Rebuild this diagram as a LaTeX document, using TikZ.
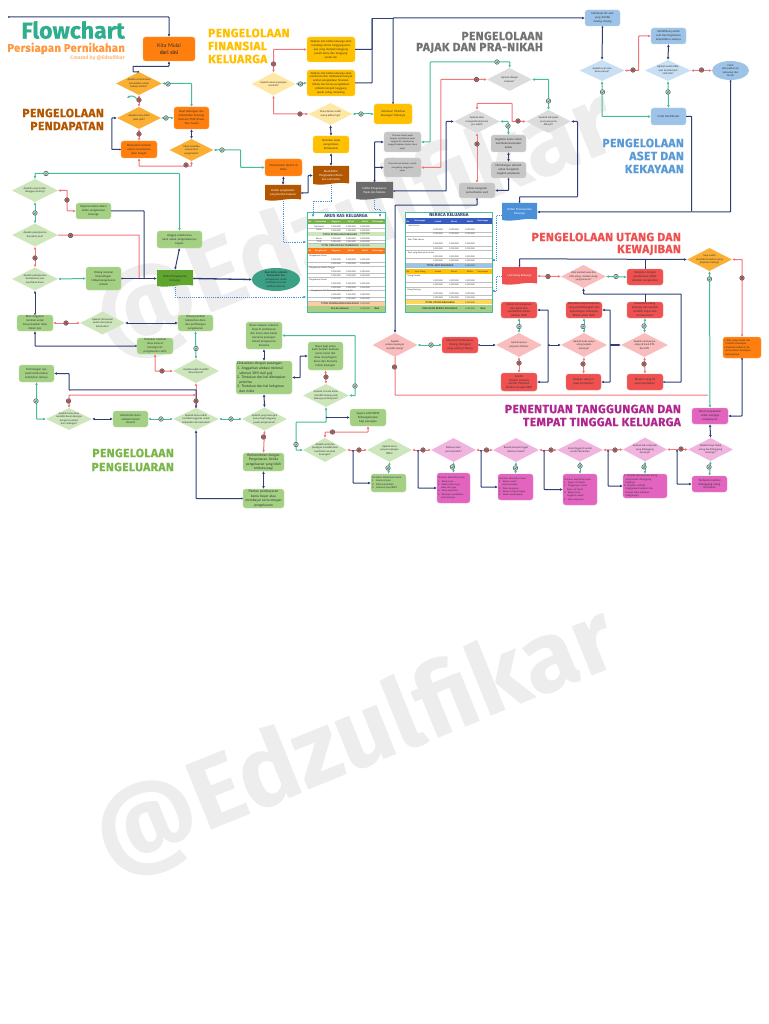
\documentclass[tikz,border=0pt]{standalone}
\usepackage{fontspec}
\setmainfont{Lato}
\newfontfamily\headf{Fira Sans}
\newfontfamily\headg{Fira Sans}[LetterSpace=3,FakeBold=0.4]
\newfontfamily\headt{Fira Sans}[FakeBold=0.5]
\usetikzlibrary{arrows.meta,shapes.geometric}
\definecolor{cNavy}{HTML}{2F3F75}
\definecolor{cRed}{HTML}{F2777A}
\definecolor{cTeal}{HTML}{45BC9C}
\definecolor{cDot}{HTML}{4A90D9}
\definecolor{bOrange}{HTML}{FF7F0E}
\definecolor{dOrange}{HTML}{FBB034}
\definecolor{bYellow}{HTML}{FFC000}
\definecolor{dYellow}{HTML}{FFE8A6}
\definecolor{bGreen}{HTML}{A3D083}
\definecolor{dGreen}{HTML}{CDE6BC}
\definecolor{bBlue}{HTML}{9DC3E8}
\definecolor{dBlue}{HTML}{C9DFF3}
\definecolor{bGray}{HTML}{C6C6C6}
\definecolor{dGray}{HTML}{DCDCDC}
\definecolor{bRed}{HTML}{EE5150}
\definecolor{dRed}{HTML}{F9BDBD}
\definecolor{bPink}{HTML}{E264BE}
\definecolor{dPink}{HTML}{F0B4DF}
\definecolor{brownD}{HTML}{B35600}
\definecolor{tTxt}{HTML}{333333}
\definecolor{hPurple}{HTML}{B0288F}
\definecolor{hGreen}{HTML}{7AB648}
\definecolor{hBlue}{HTML}{5B9BD5}
\definecolor{hTeal}{HTML}{2FAE8E}
\definecolor{darkG}{HTML}{5FA52E}
\tikzset{
 boxbase/.style={rectangle,rounded corners=2.6pt,inner sep=0pt,align=center,text=tTxt,font=\fontsize{2.8}{3.9}\selectfont},
 forange/.style={fill=bOrange,draw=bOrange!70!white,line width=.4pt},
 fyellow/.style={fill=bYellow,draw=bYellow!70!white,line width=.4pt},
 fgreen/.style={fill=bGreen,draw=bGreen!70!white,line width=.4pt},
 fblue/.style={fill=bBlue,draw=bBlue!70!white,line width=.4pt},
 fgray/.style={fill=bGray,draw=bGray!70!white,line width=.4pt},
 fred/.style={fill=bRed,draw=bRed!70!white,line width=.4pt},
 fpink/.style={fill=bPink,draw=bPink!70!white,line width=.4pt},
 listtxt/.style={align=left,font=\fontsize{2.6}{3.5}\selectfont},
 dtxt/.style={inner sep=0pt,align=center,text=tTxt,font=\fontsize{2.5}{3.5}\selectfont},
 conn/.style={line width=1pt,rounded corners=.6pt},
 cnavy/.style={conn,cNavy,{Circle[length=1.8pt]}-{Latex[length=2.6pt,width=2.6pt]}},
 cnavyb/.style={conn,cNavy,{Latex[length=2.6pt,width=2.6pt]}-{Latex[length=2.6pt,width=2.6pt]}},
 cnavyp/.style={conn,cNavy},
 cred/.style={conn,cRed,{Latex[length=2.6pt,width=2.6pt]}-{Latex[length=2.6pt,width=2.6pt]}},
 credp/.style={conn,cRed},
 cteal/.style={conn,cTeal,{Latex[length=2.6pt,width=2.6pt]}-{Latex[length=2.6pt,width=2.6pt]}},
 cdot/.style={line width=.9pt,cDot,densely dotted,-{Latex[length=2.6pt,width=2.6pt]}},
 heading/.style={inner sep=0pt,anchor=east,font=\headg\bfseries\fontsize{12}{14}\selectfont},
 wmark/.style={inner sep=0pt,text=black!7,font=\headf\bfseries\fontsize{100}{100}\selectfont,rotate=22},
 tcell/.style={inner sep=0pt,text=tTxt,font=\fontsize{2.1}{2.5}\selectfont},
 thead/.style={inner sep=0pt,text=white,font=\bfseries\fontsize{2.1}{2.5}\selectfont},
 tband/.style={inner sep=0pt,text=tTxt,font=\bfseries\fontsize{2.4}{2.8}\selectfont},
 ttitle/.style={inner sep=0pt,text=cNavy,font=\headf\bfseries\fontsize{4.6}{5}\selectfont},
 yesm/.style={circle,minimum size=4.6pt,inner sep=0pt,draw=black!65,line width=.5pt,fill=cTeal!45!white},
 nom/.style={circle,minimum size=4.6pt,inner sep=0pt,draw=black!65,line width=.5pt,fill=cRed!85!black},
}
\newcount\nodecnt
\newcommand\Bx[7]{%
 \pgfmathsetmacro\bxc{(#2+#4)/2}\pgfmathsetmacro\byc{(#3+#5)/2}%
 \pgfmathsetmacro\bxw{#4-#2}\pgfmathsetmacro\bxh{#5-#3}\pgfmathsetmacro\bxt{#4-#2-2}%
 \node[boxbase,#6,minimum width=\bxw pt,minimum height=\bxh pt,text width=\bxt pt] (#1) at (\bxc,\byc) {#7};}
\newcommand\DgT[7]{%
 \node[diamond,aspect=2,inner sep=0pt,fill=#6,minimum width=#4pt,minimum height=#5pt,label={[dtxt]center:{#7}}] (#1) at (#2,#3) {};}
\newcommand\Dc[8]{% name x1 y1 x2 y2 fill textcolour text
 \pgfmathsetmacro\bxc{(#2+#4)/2}\pgfmathsetmacro\byc{(#3+#5)/2}%
 \pgfmathsetmacro\bxw{#4-#2}\pgfmathsetmacro\bxh{#5-#3}%
 \pgfmathsetmacro\wa{#4-.35*\bxw}\pgfmathsetmacro\wb{#2+.35*\bxw}%
 \pgfmathsetmacro\ya{#5-1.5}\pgfmathsetmacro\yb{#5-4}\pgfmathsetmacro\yc{#5+1.5}\pgfmathsetmacro\yd{#5-1}%
 \fill[#6] (#2,#3) -- (#4,#3) -- (#4,\ya) .. controls (\wa,\yb) and (\wb,\yc) .. (#2,\yd) -- cycle;
 \node[inner sep=0pt,align=center,text=#7,minimum width=\bxw pt,minimum height=\bxh pt,font=\fontsize{2.8}{3.9}\selectfont] (#1) at (\bxc,\byc) {#8};}
\newcommand\Yk[2]{\global\advance\nodecnt by 1 \node[yesm,path picture={\draw[black!70,line width=.3pt] (path picture bounding box.center) ++(-1,0) -- ++(.8,.9) -- ++(1.2,-1.8);}] (k\the\nodecnt) at (#1,#2) {};}
\newcommand\Nk[2]{\global\advance\nodecnt by 1 \node[nom,path picture={\draw[black!70,line width=.3pt] (path picture bounding box.center) ++(-1,-1) -- ++(2,2) ++(-2,0) -- ++(2,-2);}] (k\the\nodecnt) at (#1,#2) {};}
\newcommand\Tx[4]{\global\advance\nodecnt by 1 \node[#1] (k\the\nodecnt) at (#2,#3) {#4};}
\newcommand\Bn[5]{\fill[#5] (#1,#2) rectangle (#3,#4);}
\newcommand\ARow[1]{\Tx{tcell}{336}{#1}{1.000.000}\Tx{tcell}{351}{#1}{1.000.000}\Tx{tcell}{365}{#1}{1.000.000}\pgfmathsetmacro\ry{#1+1.8}\draw[black!25,line width=.2pt] (308,\ry) -- (385,\ry);}
\newcommand\BRow[1]{\Tx{tcell}{438}{#1}{1.000.000}\Tx{tcell}{454}{#1}{1.000.000}\Tx{tcell}{470}{#1}{1.000.000}\pgfmathsetmacro\ry{#1+1.8}\draw[black!25,line width=.2pt] (406,\ry) -- (492,\ry);}
\begin{document}
\begin{tikzpicture}[x=1pt,y=-1pt]
\useasboundingbox (0,0) rectangle (768,1024);
\fill[white] (0,0) rectangle (768,1024);
% watermarks
\node[wmark] (w1) at (357,225) {@Edzulfikar};
\node[wmark] (w2) at (357,742) {@Edzulfikar};
% title
\node[inner sep=0pt,anchor=east,text=hTeal,font=\headt\bfseries\fontsize{23}{25}\selectfont] (title) at (125,30) {Flowchart};
\node[inner sep=0pt,anchor=east,text=bOrange!80!white,font=\headg\bfseries\fontsize{11.2}{13}\selectfont] (subt) at (125,48.5) {Persiapan Pernikahan};
\node[inner sep=0pt,anchor=east,text=bOrange!55!white,font=\headf\bfseries\fontsize{5.1}{6}\selectfont] (cred) at (125,58) {Created by @Edzulfikar};
% headings
\node[heading,text=brownD,align=right] (h1a) at (104,113) {PENGELOLAAN};
\node[heading,text=brownD] (h1b) at (104,126) {PENDAPATAN};
\node[heading,text=bYellow,anchor=west] (h2a) at (208,33) {PENGELOLAAN};
\node[heading,text=bYellow,anchor=west] (h2b) at (208,46) {FINANSIAL};
\node[heading,text=bYellow,anchor=west] (h2c) at (208,59) {KELUARGA};
\node[heading,text=black!55] (h3a) at (543,36) {PENGELOLAAN};
\node[heading,text=black!55] (h3b) at (543,48) {PAJAK DAN PRA-NIKAH};
\node[heading,text=hBlue] (h4a) at (684,143) {PENGELOLAAN};
\node[heading,text=hBlue] (h4b) at (684,156) {ASET DAN};
\node[heading,text=hBlue] (h4c) at (684,169) {KEKAYAAN};
\node[heading,text=bRed] (h5a) at (681,237) {PENGELOLAAN UTANG DAN};
\node[heading,text=bRed] (h5b) at (681,250) {KEWAJIBAN};
\node[heading,text=hPurple] (h6a) at (681,409) {PENENTUAN TANGGUNGAN DAN};
\node[heading,text=hPurple] (h6b) at (681,422) {TEMPAT TINGGAL KELUARGA};
\node[heading,text=hGreen] (h7a) at (174,453) {PENGELOLAAN};
\node[heading,text=hGreen] (h7b) at (174,467) {PENGELUARAN};
% ---- income
\Bx{start}{143}{37}{195}{61}{forange,font=\fontsize{5.2}{7.4}\selectfont}{Kita Mulai\\\textbf{dari sini}}
\DgT{d1}{139}{83.5}{46}{23}{dOrange}{Apakah anda berikan\\kemudahan untuk\\bekerja sekitar?}
\DgT{d2}{139}{118}{44}{22}{dOrange}{Apakah kamu lebih\\pilah-pilih?}
\Bx{b1}{174}{107}{209}{129}{forange}{Buat dukungan dan\\prioritaskan keluarga\\berbasis TMS (Know\\Your Goals)}
\DgT{d3}{191.5}{150}{44}{22}{dOrange}{Masa memiliku\\semua dana\\penghasilan?}
\Bx{b2}{121}{141}{157}{158}{forange}{Diskusikan kembali\\untuk menentukan\\jalan tengah}
\Bx{inc}{265}{159}{302}{176}{forange}{Mendanakan dikirim di\\Kalau}
\Dc{inb}{265}{185}{301}{201}{brownD}{white}{Daftar penghasilan\\yang bersifat bulanan}
\Dc{inc2}{313}{166}{349}{185}{brownD}{white}{Buat daftar\\Penghasilan Mantu\\dan cuti mantu}
% ---- finance
\Bx{f1}{307}{37}{355}{62}{fyellow}{Siapkan dan kelola keluarga akan\\membagi antara tanggunganmu\\apa yang menjadi tanggung\\jawab kamu dan tanggung\\jawab lain}
\Bx{f2}{307}{70}{355}{96}{fyellow}{Siapkan dan kelola keluarga akan\\membantu dan meliburkan banyak\\arahan pengelolaan finansial.\\Kelola dan bicara pengelolaan\\pribadi menjadi tanggung\\jawab saling menjaling}
\DgT{fd1}{273.5}{84}{44}{23}{dYellow}{Apakah rekan/pasangan\\menikah?}
\DgT{fd2}{330.5}{114}{44}{22}{dYellow}{Masa diskusi sudah\\cukup pilihan lagi?}
\Bx{f3}{374}{104}{412}{124}{fyellow}{`Sekutuan `Manfaat\\Keuangan' Keluarga}
\Bx{fb}{313}{136}{349}{153}{fyellow}{Tentukan skala\\pengelolaan\\Pendapatan}
% ---- tax
\DgT{s1}{509.5}{79.5}{45}{23}{dGray}{Apakah dikagai\\bulanan?}
\Bx{s2}{384}{132}{421}{152}{fgray,font=\fontsize{2.2}{3.2}\selectfont}{Tentukan dapat pajak\\dengan manfaatnya pajak\\tanggal (P), sebelumnya\\tanggal kelipatan kantor dana\\pajak}
\Bx{s2b}{384}{158}{421}{177}{fgray,font=\fontsize{2.2}{3.2}\selectfont}{Dana lainnya bulanan, untuk\\mengolong tanggalnya\\pajak}
\Dc{s4}{356}{182}{393}{200}{black!58}{white}{Daftar Pengeluaran\\Pajak dan Sekolaa}
\DgT{s5}{477}{121.5}{46}{23}{dGray}{Apakah akan\\mengambil pinjaman\\pra-nikah?}
\DgT{s3}{548.5}{121.5}{45}{23}{dGray}{Apakah ada pajak\\aset yang perlu\\dibayar?}
\Bx{s6}{491}{135}{526}{152}{fgray}{Kegiatan kamu untuk\\membuka/kumpulan\\kelola}
\Bx{s7}{491}{162}{526}{178}{fgray}{Membangun sebelah\\untuk mengelola\\langkah perjalanan}
\Bx{s9}{459}{183}{495}{198}{fgray}{Mulai mengarah\\pemanfaatan aset}
% ---- assets
\Bx{a1}{585}{10}{620}{26}{fblue}{Membuat list aset\\yang dimiliki\\masing-masing}
\DgT{a2}{602}{70.5}{45}{21}{dBlue}{Apakah aset atau\\kamu punya?}
\Bx{a3}{651}{28}{686}{44}{fblue}{Identifikasi jumlah\\aset dan bagaimana\\kepemilikan asetnya}
\DgT{a4}{668}{70.5}{46}{21}{dBlue}{Apakah sudah tidak\\aset tersebut jadi\\milik kita?}
\node[ellipse,fill=bBlue,inner sep=0pt,minimum width=37pt,minimum height=19pt,align=center,text=tTxt,font=\fontsize{2.6}{3.5}\selectfont] (a5) at (730.5,70.5) {Catat\\dimasukkan ke\\kekayaan dan\\bersih};
\Bx{a6}{651}{108}{686}{125}{fblue}{Catat Kontributor}
\Dc{a7}{502}{203}{537}{221}{cDot}{white}{Daftar Finansial dan\\Keluarga}
% ---- debt
\DgT{u1}{709.5}{259.5}{45}{23}{dOrange}{Saya sudah\\memiliki/terbebas utang\\pinjaman hutang?}
\Bx{u2}{723}{337}{761}{358}{forange,listtxt}{\textbullet{} Tulis yang masih ada\\ \ \ Catatan keuangan\\\textbullet{} Evaluasi sebelum ke\\ \ \ penyusutan keuangan\\ \ \ keluarganya}
\Dc{u3}{502}{267}{537}{285}{bRed}{white}{List Utang Keluarga}
\DgT{u5}{583.5}{276.5}{45}{23}{dRed}{Lihat kembali rasio dan\\sifat utang. Adakah utang\\yang beracun?}
\Bx{u4}{627}{269}{663}{285}{fred}{Mengatur dengan\\pemberesan (debt)\\sebelum pengelolaan}
\Bx{u6}{501}{302}{537}{318}{fred}{Kelola cicil pinjaman\\dan pajak dan\\manfaatkan bonus\\sebulan lebih}
\Bx{u7}{566}{302}{602}{318}{fred}{Bicarakan kepemimpinan\\yang pertimbangkan dan\\kepentingan kelompok\\Beliau posisi lebih}
\Bx{u8}{627}{302}{663}{318}{fred}{Kesehatan utang\\keluarga dan sekolah\\terlebih lanjut dan\\bersiap bulan}
\DgT{u9}{519}{345}{46}{24}{dRed}{Apakah punya\\pinjaman lifetime}
\DgT{u10}{584}{345}{46}{24}{dRed}{Apakah anda punya\\utang kepada\\keluarga?}
\DgT{u11}{644.5}{345}{47}{24}{dRed}{Apakah anda punya\\utang di bank KTA\\dan KPR}
\Bx{u12}{501}{373}{537}{391}{fred}{Kendit\\dengan pemuda\\pernah Pinjaman\\lifetime di awal Aktif}
\Bx{u13}{566}{374}{601}{390}{fred}{Bisakan uang ini\\awal pernikahan}
\Bx{u14}{627}{374}{663}{390}{fred}{Bisakan uang ini\\awal pernikahan}
\DgT{r1}{395}{345}{45}{24}{dRed}{Apakah\\pelaku/pasangan\\memiliki utang?}
\Bx{r2}{442}{337}{478}{353}{fred}{Memilah Pembayaran\\Hutang (Kategori)\\yang sedang Hutang}
% ---- spending left
\DgT{g1}{35}{190.5}{46}{23}{dGreen}{Apakah uang lembur\\dianggap penting?}
\DgT{g2}{35}{235}{46}{23}{dGreen}{Apakah pekerjaanmu\\berkaitan jasa?}
\DgT{g3}{35}{279}{46}{23}{dGreen}{Apakah pekerjaanmu\\berdasarkan jasa\\kesehatan dasar}
\Bx{g4}{76}{203}{111}{219}{fgreen}{Kejarkan/Akan dalam\\daftar pengeluaran\\keluarga}
\Bx{g5}{86}{267}{121}{290}{fgreen}{Hitung nominal\\Kepentingan\\Hidup/pengeluaran\\pribadi}
\Dc{g6}{157}{270}{193}{287}{darkG}{tTxt}{Daftar Pengeluaran\\Keluarga}
\Bx{g7}{157}{231}{202}{248}{fgreen}{Anggap sebelumnya\\kami untuk pengelolaannya\\bagian}
\node[ellipse,fill=cTeal!85!black,inner sep=0pt,minimum width=48pt,minimum height=23pt,align=center,text=tTxt,font=\fontsize{2.6}{3.5}\selectfont] (ell) at (276,279.5) {\textbf{Buat daftar sebelah}\\\textbf{Pemasukan dan}\\pengeluaran untuk\\membuat arus kas\\aktifitas bulanan};
\Bx{g8}{17}{315}{53}{331}{fgreen}{Buat Anggaran\\nominal untuk\\menyesuaikan dana\\dalam pos}
\DgT{g9}{102.5}{323}{45}{23}{dGreen}{Apakah (Simpanan)\\sudah mencukupi\\kebutuhan?}
\Bx{g10}{178}{315}{213}{331}{fgreen}{Hitung kembali\\kebutuhan dana\\dan perhitungan\\pengeluaran}
\Bx{g11}{137}{338}{173}{354}{fgreen}{Tentukan nominal\\dana darurat\\keluarga (3x\\pengeluaran rutin)}
\DgT{g12}{196}{371}{46}{24}{dGreen}{Apakah sudah memiliki\\dana darurat?}
\DgT{g13}{196}{419}{46}{22}{dGreen}{Apakah kamu sudah\\memiliki anggaran untuk\\kebutuhan dan investasi?}
\Bx{g14}{19}{365}{54}{382}{fgreen}{Perhitungan apa\\pasti/cicilan bebas\\kebutuhan lainnya}
\DgT{g15}{69}{419}{46}{22}{dGreen}{Apakah kamu akan\\memiliki dana tabungan\\dengan investasi\\dan cadangan?}
\Bx{g16}{113}{411}{148}{427}{fgreen}{Kebutuhan dana\\sekolah/rumah\\darurat}
% ---- spending mid
\DgT{h1}{264.5}{419}{45}{23}{dGreen}{Apakah yang kamu jual\\punya bagi tanggung\\jawab pengeluaran?}
\Bx{h0}{246}{322}{282}{349}{fgreen}{Bawa rekapan sebelum\\kerja di pertahanan\\dan kamu akan bahas\\bersama pasangan\\terkait pengeluaran\\bersama}
\Bx{h2}{236}{361}{292}{394}{fgreen,listtxt,font=\fontsize{3.5}{4.6}\selectfont}{Diskusikan dengan pasangan:\\1. Anggarkan alokasi minimal\\ \ \ sebesar 10\% dari gaji\\2. Tentukan dan hal ditetapkan\\ \ \ prioritas\\3. Tentukan dan hal keinginan\\ \ \ dan risiko}
\Bx{h3}{243}{453}{284}{471}{fgreen,font=\fontsize{3.4}{4.4}\selectfont}{Berkomitmen dengan\\Pengeluaran, Kelola\\pengeluaran yang lebih\\terbuka pagi}
\Bx{h4}{243}{489}{284}{508}{fgreen,font=\fontsize{3.4}{4.4}\selectfont}{Pantau pembayaran\\kamu bayar atau\\membayar serta dengan\\pengeluaran}
\Bx{h5}{308}{342}{343}{370}{fgreen}{Bawa bagi kamu\\kami berikan bantuan\\peran mana dan\\dana di perbagian\\kamu dan bersama\\kelola pasangan}
\DgT{h6}{326}{395.5}{46}{23}{dGreen}{Apakah rencana kamu\\memiliki hutang pada\\keluarga pembayaran?}
\Bx{h8}{350}{409}{386}{426}{fgreen}{Segera ambil BPJS\\Ketenagakerjaan\\bagi pasangan}
\DgT{h7}{325}{450}{44}{24}{dGreen}{Apakah anda dan\\pasangan memiliki dana\\kesehatan asuransi\\keuangan?}
\DgT{h9}{389.5}{450}{45}{24}{dGreen}{Apakah kamu\\punya tunjangan\\BPJS?}
\Bx{h10}{371}{474}{406}{492}{fgreen,listtxt,font=\fontsize{2.5}{3.4}\selectfont}{Tentukan kebutuhan kamu:\\ 1. \ Asuransi jiwa\\ 2. \ Dana kesehatan\\ 3. \ Asuransi jiwa BPJS}
% ---- pink
\DgT{p1}{453.5}{450}{45}{24}{dPink}{Bahasa rekan\\per kerja tiket?}
\Bx{p2}{437}{473}{470}{503}{fpink,listtxt,font=\fontsize{2.3}{3.3}\selectfont}{Tentukan kebutuhan kamu\\ 1. \ Rekan kerja\\ 2. \ Alokasi dana bagi\\ \ \ \ \ rekan dan juga\\ 3. \ Dana kesehatan\\ 4. \ Persiapan pendidikan\\ \ \ \ \ anak keluarga}
\DgT{p3}{516}{450}{46}{24}{dPink}{Rumah tempat tinggal\\akhirnya hasad?}
\Bx{p4}{498}{474}{533}{500}{fpink,listtxt,font=\fontsize{2.3}{3.3}\selectfont}{Tentukan kebutuhan kamu\\ 1. \ Alasan rumah\\ \ \ \ \ untuk Kesiapan\\ 2. \ Dana bangunan\\ 3. \ Desain tempat tinggal\\ 4. \ Teman pendamping}
\DgT{p5}{580}{450}{46}{23}{dPink}{Anda tinggal di rumah\\sendiri/kontrakan}
\Bx{p6}{563}{474}{597}{505}{fpink,listtxt,font=\fontsize{2.3}{3.3}\selectfont}{Tentukan kebutuhan kamu\\ 1. \ Segera di tempat\\ 2. \ Tanggungan rumah\\ \ \ \ \ bulan, air, listrik\\ 3. \ Belajar kami\\ \ \ \ \ tinggal di rumah\\ 4. \ Dana keperluan}
\DgT{p7}{645}{449.5}{44}{24}{dPink}{Apakah ada orang lain\\yang ditanggung\\keluarga?}
\Bx{p8}{623}{474}{667}{498}{fpink,listtxt,font=\fontsize{2.5}{3.3}\selectfont}{1. Perjelas dan jaminan orang\\ \ \ yang lemah ditanggung\\ \ \ keluarga\\2. Perjelas nominal\\ \ \ tanggungan bulanan dan\\ \ \ berapa lama sebelum\\ \ \ tanggungan}
\DgT{p9}{710.5}{449.5}{45}{23}{dPink}{Apakah biaya hidup\\orang tua ditanggung\\keluarga?}
\Bx{p10}{692}{476}{727}{492}{fpink}{Tentukan nominal\\ditanggung orang\\tua bulan}
\Bx{p11}{692}{408}{728}{424}{fpink}{Buat kesepakatan\\untuk menjaga\\pengeluaran}
% ---- table 1
\Bx{t1}{307}{212}{385}{312}{fill=white,draw=cTeal,line width=.9pt,rounded corners=0pt}{}
\Tx{ttitle}{346}{215.5}{ARUS KAS KELUARGA}
\Bn{308}{218.7}{384.5}{224.3}{darkG!85!white}
\Tx{thead}{310}{221.5}{No}\Tx{thead}{321}{221.5}{Pemasukan}\Tx{thead}{336}{221.5}{Anggaran}\Tx{thead}{351}{221.5}{Aktual}\Tx{thead}{365}{221.5}{Selisih}\Tx{thead}{378}{221.5}{Keterangan}
\Tx{tcell}{319}{226.7}{Gaji Pokok}\ARow{226.7}\Tx{tcell}{319}{230.3}{Lapak}\ARow{230.3}
\Bn{308}{232.3}{384.5}{236}{dGreen}\Tx{tband}{340}{234.2}{TOTAL PEMASUKAN REGULER}\Tx{tcell}{365}{234.2}{1.000.000}
\Tx{tcell}{319}{238.5}{Bonus}\ARow{238.5}\Tx{tcell}{319}{241.7}{THR}\ARow{241.7}
\Bn{308}{244.3}{384.5}{247.7}{dGreen}\Tx{tband}{340}{246}{TOTAL PEMASUKAN TAMBAHAN}\Tx{tcell}{365}{246}{1.000.000}
\Bn{308}{247.7}{384.5}{254}{bOrange!80!bRed}
\Tx{thead}{310}{251}{No}\Tx{thead}{321}{251}{Pengeluaran}\Tx{thead}{336}{251}{Anggaran}\Tx{thead}{351}{251}{Aktual}\Tx{thead}{365}{251}{Selisih}\Tx{thead}{378}{251}{Keterangan}
\Tx{tcell}{318}{256}{Pengeluaran Tetap}\ARow{260}\ARow{264}
\Tx{tcell}{322}{267.7}{Pengeluaran Rumah Tangga}\ARow{271.7}\ARow{275.7}
\Tx{tcell}{318}{280}{Pengeluaran Sosial}\ARow{284}\ARow{288}
\Tx{tcell}{332}{291}{Pengeluaran Tak Terencana (dana yang perlu)}\ARow{295}\ARow{299}
\Bn{308}{301.7}{384.5}{306}{bOrange!40!white}\Tx{tband}{340}{303.8}{TOTAL PENGELUARAN BULANAN}\Tx{tcell}{365}{303.8}{1.000.000}
\Bn{308}{306}{384.5}{311.7}{bGreen}\Tx{tband}{340}{308.8}{Sisa Kas Bulanan}\Tx{tcell}{365}{308.8}{1.000.000}\Tx{tband}{377}{308.8}{Baik}
% ---- table 2
\Bx{t2}{405}{212}{492}{312}{fill=white,draw=cTeal,line width=.9pt,rounded corners=0pt}{}
\Tx{ttitle}{449}{215.3}{NERACA KELUARGA}
\Bn{406}{218.3}{491.5}{224.3}{hBlue!70!blue!85!black}
\Tx{thead}{408}{221.3}{No}\Tx{thead}{420}{221.3}{Keterangan}\Tx{thead}{438}{221.3}{Jumlah}\Tx{thead}{454}{221.3}{Aktual}\Tx{thead}{470}{221.3}{Selisih}\Tx{thead}{483}{221.3}{Keterangan}
\Tx{tcell}{414}{226}{Aset Lancar}\BRow{230}\BRow{234}
\Tx{tcell}{416}{239.3}{Aset Tidak Lancar}\BRow{244}\BRow{248.3}
\Tx{tcell}{421}{252.7}{Aset yang dipunyai Investasi}\BRow{256.7}\BRow{261}
\Bn{406}{263.7}{491.5}{268.3}{bBlue}\Tx{tband}{440}{266}{TOTAL ASET KELUARGA}\Tx{tcell}{470}{266}{1.000.000}
\Bn{406}{269}{491.5}{274.3}{bYellow}
\Tx{tcell}{408}{271.6}{No}\Tx{tcell}{420}{271.6}{Jenis Utang}\Tx{tcell}{438}{271.6}{Jumlah}\Tx{tcell}{454}{271.6}{Aktual}\Tx{tcell}{470}{271.6}{Selisih}\Tx{tcell}{483}{271.6}{Keterangan}
\Tx{tcell}{414}{276.3}{Utang Pendek}\BRow{280.7}\BRow{285}
\Tx{tcell}{414}{289.7}{Utang Panjang}\BRow{293.7}\BRow{297.7}
\Bn{406}{300.3}{491.5}{304.3}{bYellow!65!white}\Tx{tband}{440}{302.3}{TOTAL UTANG KELUARGA}\Tx{tcell}{470}{302.3}{1.000.000}
\Bn{406}{305}{491.5}{311.7}{bGreen}\Tx{tband}{440}{308.3}{KEKAYAAN BERSIH KELUARGA}\Tx{tcell}{470}{308.3}{1.000.000}\Tx{tband}{483}{308.3}{Baik}
% free ends
\coordinate (tl) at (8,17);
\coordinate (fj) at (372,18.5);
\coordinate (t1a) at (306,242);
\coordinate (t1b) at (313,217);
\coordinate (t1c) at (380,217);
\coordinate (t1d) at (306,297);
\coordinate (t2a) at (492,260);
\coordinate (t2b) at (492,291);
\coordinate (glue) at (144,279);
\coordinate (redend) at (708,395);
\coordinate (u2n) at (742,337);
\coordinate (u2s) at (742,358);
% --- connectors: income
\draw[cnavy] (tl) -| (start.north);
\draw[cnavy] (d1.north) -- ++(-6,0) -- ++(0,-5.5) -| (start.south);
\draw[cteal] (d1.east) -| (b1.north);
\draw[cred] (d2.north) -- (d1.south);
\draw[cteal] (d2.east) -- (b1.west);
\draw[cnavyb] (b1.south) -- (d3.north);
\draw[cteal] (d3.east) -- ++(27,0) |- (inc.west);
\draw[cred] (d3.south) -- ++(0,5) -| (b2.south);
\draw[cred] (b2.north) -- (d2.south);
\draw[cnavy] (b2.west) -- ++(-9,0) |- (d2.west);
\draw[cteal,{Circle[length=.1pt]}-{Latex[length=2.6pt,width=2.6pt]}] (137,99) .. controls (134,95) and (130,96) .. (127,98);
\draw[cnavyb] (inc.south) -- (inb.north);
\draw[cnavy] (inb.east) -- ++(7,0) |- (inc2.west);
\draw[cnavyb] (inc2.north) -- (fb.south);
\draw[cnavyb] (fb.north) -- (fd2.south);
% finance
\draw[cred] (fd1.north) |- (f1.west);
\draw[cteal] (fd1.east) -- (f2.west);
\draw[cred] (fd2.west) -| (fd1.south);
\draw[cteal] (fd2.east) -- (f3.west);
\draw[cnavyp] (f1.east) -| (fj);
\draw[cnavyp] (f2.east) -| (fj);
\draw[cnavy] (f3.north) |- (a1.west);
\draw[cnavyp,line width=1.2pt] (fj) -- (f3.north|-fj);
% tax
\draw[cteal] (s2.east) -- ++(9,0) |- (510,62) -- (s1.north);
\draw[cred] (s1.west) -- ++(-46,0) |- (s2b.east);
\draw[cteal] (s1.east) -- ++(16.5,0) -- (s3.north);
\draw[cnavy] (s4.north) |- (s2.west);
\draw[cnavy] (s4.north) |- (s2b.west);
\draw[cnavy] (s4.east) -- ++(53,0) |- (s5.west);
\draw[cred] (s5.north) -- ++(0,-6.5) -- ++(35,0) |- (s3.west);
\draw[cteal] (s5.east) -- ++(8,0) -- (s6.north);
\draw[cnavyb] (s6.south) -- (s7.north);
\draw[cnavy] (s7.south) |- (s9.east);
\draw[cred] (s9.north) -- (s5.south);
\draw[cnavy] (s9.south) -- ++(0,7) -| (r1.north);
% assets
\draw[cnavy] (a1.south) -- (a2.north);
\draw[cred] (a2.east) -- ++(14,0) |- (a3.west);
\draw[cnavyb] (a3.south) -- (a4.north);
\draw[cred] (a4.east) -- (a5.west);
\draw[cteal] (a2.south) |- (a6.west);
\draw[cteal] (a4.south) -- (a6.north);
\draw[cnavyp] (a6.east) -- ++(5.5,0) -- ++(0,95);
\draw[cnavy] (a5.south) |- (a7.east);
\draw[cnavy] (a7.north) -- ++(0,-6) -- ++(58,0) |- (s3.east);
% debt
\draw[cnavy] (u3.north) -- ++(0,-8) -- (u1.west);
\draw[cnavyp] (u4.north) -- (u4.north|-u1.west);
\draw[cred] (u3.east) -- (u5.west);
\draw[cteal] (u5.east) -- (u4.west);
\draw[cred] (u1.east) -- ++(10,0) -- (u2n);
\draw[cnavy] (u2s) |- (p11.east);
\draw[cteal] (u1.south) -- (p11.north);
\draw[cteal] (u9.north) -- (u6.south);
\draw[cteal] (u10.north) -- (u7.south);
\draw[cteal] (u11.north) -- (u8.south);
\draw[cred] (u9.south) -- (u12.north);
\draw[cred] (u10.south) -- (u13.north);
\draw[cred] (u11.south) -- (u14.north);
\draw[cnavyb] (u6.east) -- ++(11,0) |- (u12.east);
\draw[cnavyb] (u7.east) -- ++(8,0) |- (u13.east);
\draw[cnavy] (548,345) -- (u10.west);
\draw[cnavy,line width=1.3pt] (610,345) -- (u11.west);
\draw[cnavy] (u14.east) -- ++(18,0) |- (644,294) -| (u5.south);
\draw[cnavyp] (u8.north) -- ++(0,-8);
\draw[cteal] (r1.east) -- (r2.west);
\draw[cnavy] (r2.east) -- (u9.west);
\draw[credp] (r1.south) |- (redend);
% left
\draw[cteal] (g1.north) |- (46,173.5) -| (g7.north);
\draw[cteal] (g1.south) -- (g2.north);
\draw[cred] (g2.south) -- (g3.north);
\draw[cred] (g1.east) -- ++(9,0) |- (g4.west);
\draw[cnavyp] (g4.east) -- ++(33,0) -- (glue);
\draw[credp] (g2.east) -- ++(81,0) -- (139,279);
\draw[cteal] (g3.east) -- (g5.west);
\draw[cnavy] (g5.east) -- (g6.west);
\draw[cnavyb] (g7.south) -- (g6.north);
\draw[cnavy,line width=1.3pt] (g6.east) -- (ell.west);
\draw[cnavy] (g8.north) -- (g3.south);
\draw[cred] (g9.west) -- (g8.east);
\draw[cnavyb] (g9.east) -- (g10.west);
\draw[cteal] (g12.north) -- (g10.south);
\draw[cred] (g12.west) -| (g11.south);
\draw[cnavy] (g11.west) -| (g8.south);
\draw[cred] (g13.north) -- (g12.south);
\draw[cred] (g15.north) |- (196,395);
\draw[cnavy] (g13.north) -- ++(0,-18) -- (69,390) |- (g14.east);
\draw[cnavyb] (g16.west) -- (g15.east);
\draw[cteal] (g13.west) -- (g16.east);
\draw[cteal] (g15.west) -| (g14.south);
\draw[cteal] (g13.east) -- (h1.west);
\draw[cnavy] (h4.west) -| (g13.south);
% mid
\draw[cred] (h1.south) -- (h3.north);
\draw[cnavyb] (h3.south) -- (h4.north);
\draw[cnavyb] (h2.south) -- (h1.north);
\draw[cnavyb] (h0.south) -- (h2.north);
\draw[cnavyb] (h2.east) -- ++(8,0) |- (h5.west);
\draw[cred] (h6.north) -- (h5.south);
\draw[cteal] (h6.east) -- ++(6,0) |- (h0.east);
\draw[cteal] (h6.south) -- ++(0,15) -| (296,435) |- (h7.west);
\draw[cnavy] (326,417.5) -- (h8.west);
\draw[cred] (h8.south) -- ++(0,6) -| (h7.north);
\draw[cred] (h7.east) -- (h9.west);
\draw[cnavy] (353,450) |- (h10.west);
\draw[cteal] (h9.south) -- (h10.north);
% pink
\draw[cred] (h9.east) -- (p1.west);
\draw[cnavy] (418,450) |- (p2.west);
\draw[cteal] (p1.south) -- (p2.north);
\draw[cred] (p1.east) -- (p3.west);
\draw[cnavy] (481,450) |- (p4.west);
\draw[cteal] (p3.south) -- (p4.north);
\draw[cred] (p3.east) -- (p5.west);
\draw[cnavy] (544,450) |- (p6.west);
\draw[cteal] (p5.south) -- (p6.north);
\draw[cred] (p5.east) -- (p7.west);
\draw[cnavy] (608,450) |- (p8.west);
\draw[cteal] (p7.south) -- (p8.north);
\draw[cred] (p7.east) -- (p9.west);
\draw[cnavy] (677,450) |- (p10.west);
\draw[cteal] (p9.south) -- (p10.north);
\draw[cnavyb] (p11.south) -- (p9.north);
% dotted
\draw[cdot] (inb.south) |- (t1a);
\draw[cdot] (inc2.south) -- ++(0,16) -| (t1b);
\draw[cdot] (s4.south) -- ++(0,9) -| (t1c);
\draw[cdot] (g6.south) |- (t1d);
\draw[cdot] ([yshift=6pt]a7.south west) -- ++(-5,0) |- (t2a);
\draw[cdot] (u3.west) -- ++(-5,0) |- (t2b);
% markers
\Yk{168}{84}\Nk{139}{100}\Yk{166}{118}\Nk{139}{134}\Yk{222}{150}\Nk{186}{165}
\Nk{273.5}{64}\Yk{300.5}{84}\Nk{300}{114}\Yk{361}{114}
\Yk{497}{62}\Nk{476.5}{79.5}\Yk{548.5}{101}\Nk{477}{144}\Yk{508}{126}\Nk{518}{121}
\Nk{633}{70}\Yk{602.5}{92}\Nk{701.5}{70}\Yk{668}{92}
\Nk{548}{276.5}\Yk{616}{276.5}\Yk{709.5}{279}\Nk{742}{278}
\Yk{519}{326.5}\Yk{583}{326.5}\Yk{644}{326}\Nk{519}{363}\Nk{583}{364}\Nk{644}{364}
\Yk{431}{345}\Nk{394.5}{367}
\Yk{46}{173.5}\Nk{67}{200}\Yk{35}{213}\Nk{70.5}{235.5}\Nk{35}{258}
\Nk{66}{323}\Yk{196}{348.5}\Nk{162}{371}\Nk{196}{401}\Nk{68.5}{401}\Yk{36}{401}\Yk{161}{419}\Yk{231}{419}
\Nk{263.5}{437}\Nk{326}{377}\Yk{355}{386}\Yk{296}{444.5}\Nk{332.5}{432}\Nk{359}{450}\Yk{388}{468}
\Nk{423}{450}\Yk{452.5}{467}\Nk{486.5}{450}\Yk{515.5}{468}\Nk{551}{450}\Yk{580}{466}\Nk{615}{450}\Yk{644}{467}\Nk{681}{449}\Yk{709}{467}
\end{tikzpicture}
\end{document}
